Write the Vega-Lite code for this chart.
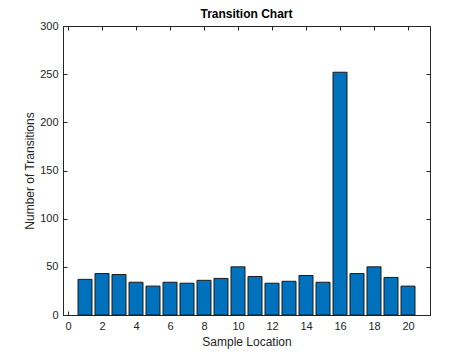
{
  "$schema": "https://vega.github.io/schema/vega-lite/v6.json",
  "autosize": "none",
  "width": 367,
  "height": 289,
  "padding": {"left": 63, "top": 26, "right": 44, "bottom": 40},
  "background": "white",
  "config": {
    "view": {"stroke": "#262626", "strokeWidth": 1},
    "font": "Liberation Sans",
    "axis": {"grid": false, "domain": false, "tickColor": "#262626", "labelColor": "#262626", "titleColor": "#262626", "labelFont": "Liberation Sans", "titleFont": "Liberation Sans", "labelFontSize": 11, "titleFontSize": 12, "titleFontWeight": "normal", "tickSize": -4, "labelPadding": 9},
    "title": {"font": "Liberation Sans", "fontSize": 12, "fontWeight": "bold", "color": "#000000", "offset": -1}
  },
  "title": "Transition Chart",
  "data": {"values": [
    {"loc": 1, "n": 37}, {"loc": 2, "n": 43}, {"loc": 3, "n": 42}, {"loc": 4, "n": 34},
    {"loc": 5, "n": 30}, {"loc": 6, "n": 34}, {"loc": 7, "n": 33}, {"loc": 8, "n": 36},
    {"loc": 9, "n": 38}, {"loc": 10, "n": 50}, {"loc": 11, "n": 40}, {"loc": 12, "n": 33},
    {"loc": 13, "n": 35}, {"loc": 14, "n": 41}, {"loc": 15, "n": 34}, {"loc": 16, "n": 252},
    {"loc": 17, "n": 43}, {"loc": 18, "n": 50}, {"loc": 19, "n": 39}, {"loc": 20, "n": 30}
  ]},
  "layer": [
    {
      "mark": {"type": "bar", "size": 14, "color": "#0072BD", "stroke": "#1a1a1a", "strokeWidth": 1},
      "encoding": {
        "x": {"field": "loc", "type": "quantitative", "scale": {"domain": [0, 21], "nice": false}, "axis": {"values": [0,2,4,6,8,10,12,14,16,18,20], "title": "Sample Location", "titlePadding": 5}},
        "y": {"field": "n", "type": "quantitative", "scale": {"domain": [0, 300], "nice": false}, "axis": {"values": [0,50,100,150,200,250,300], "title": "Number of Transitions", "titlePadding": 3}}
      }
    },
    {
      "mark": {"type": "point", "opacity": 0},
      "encoding": {
        "x": {"field": "loc", "type": "quantitative", "axis": {"orient": "top", "values": [0,2,4,6,8,10,12,14,16,18,20], "labels": false, "title": null}},
        "y": {"field": "n", "type": "quantitative", "axis": {"orient": "right", "values": [0,50,100,150,200,250,300], "labels": false, "title": null}}
      }
    }
  ],
  "resolve": {"axis": {"x": "independent", "y": "independent"}}
}
